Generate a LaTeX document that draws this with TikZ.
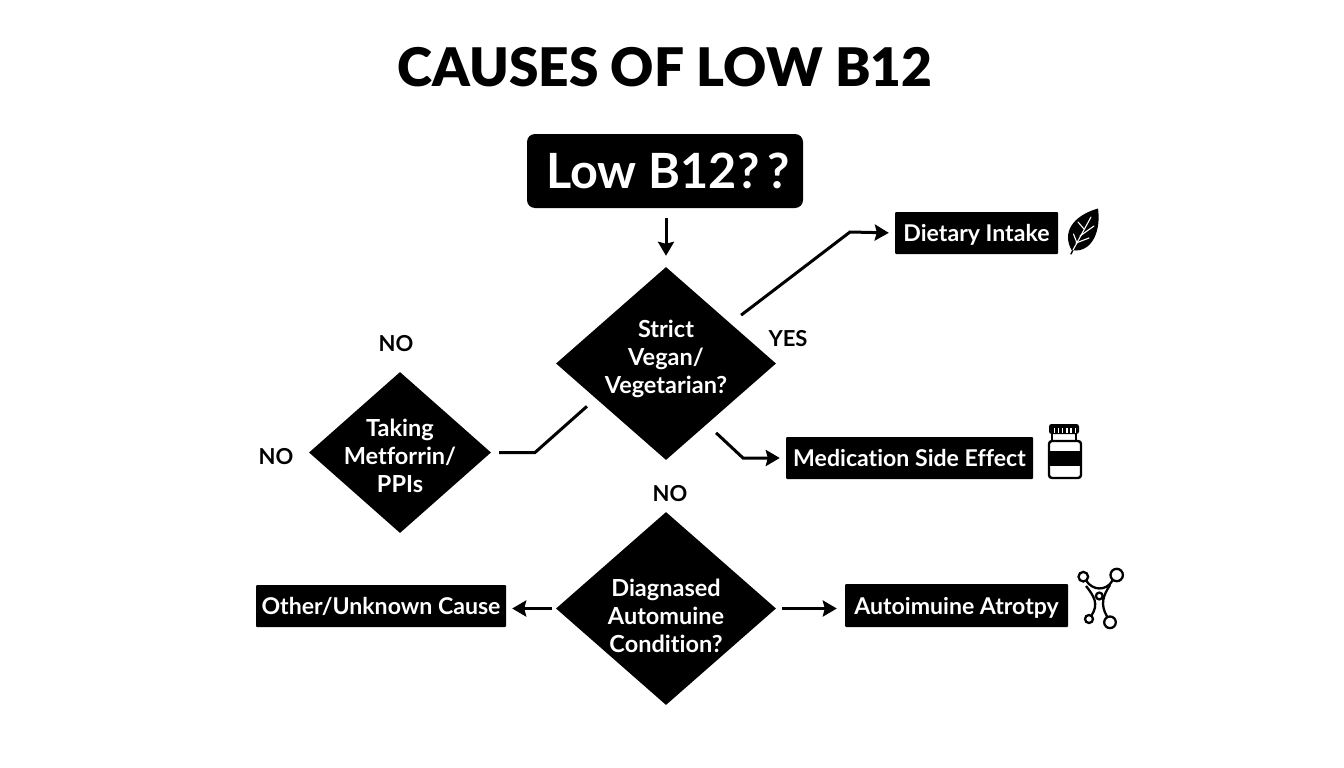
\documentclass[tikz,border=0pt]{standalone}
\usepackage{fontspec}
\setmainfont{Lato}[Ligatures=NoCommon]
\newfontfamily\heavy{Lato Black}[Ligatures=NoCommon]
\usetikzlibrary{shapes.geometric,arrows.meta,calc}
\newcommand\dtext[2]{\raisebox{#1}[0pt][0pt]{\parbox[c]{150pt}{\centering #2}}}
\tikzset{
  decision/.style={diamond,fill=black,text=white,inner sep=0pt,font=\bfseries\fontsize{23.5}{28}\selectfont},
  outcome/.style={rectangle,fill=black,text=white,inner sep=0pt,rounded corners=1pt,text height=17pt,text depth=0pt,font=\bfseries\fontsize{23.1}{26}\selectfont},
  link/.style={line width=3pt,-{Stealth[length=14pt,width=16pt,inset=2pt]}},
  plainlink/.style={line width=3pt},
  branch/.style={font=\bfseries\fontsize{22}{26}\selectfont}
}
\begin{document}
\begin{tikzpicture}[x=1pt,y=-1pt]
\useasboundingbox (0,0) rectangle (1344,768);
\fill[white] (0,0) rectangle (1344,768);
\node[font=\fontsize{53.2}{60}\selectfont\heavy] (title) at (665,67) {CAUSES OF LOW B12};
\node[fill=black,text=white,rounded corners=8pt,minimum width=276pt,minimum height=74pt,inner sep=0pt,font=\bfseries\fontsize{48.6}{54}\selectfont] (start) at (665,171) {\hspace{6pt}Low B12?\,?};
\node[decision,minimum width=220pt,minimum height=193pt,aspect=1.14] (d1) at (666,363.5) {\dtext{-2pt}{Strict\\Vegan/\\Vegetarian?}};
\node[decision,minimum width=182pt,minimum height=161pt,aspect=1.13] (d2) at (400,452.5) {\dtext{-9.5pt}{Taking\\Metforrin/\\PPIs}};
\node[decision,minimum width=220pt,minimum height=193pt,aspect=1.14] (d3) at (666,608.5) {\dtext{-13.5pt}{Diagnased\\Automuine\\Condition?}};
\node[outcome,minimum width=163pt,minimum height=42pt] (diet) at (976.5,233) {Dietary Intake};
\node[outcome,minimum width=247pt,minimum height=42pt] (med) at (909.5,458) {Medication Side Effect};
\node[outcome,minimum width=223pt,minimum height=43pt] (auto) at (956.5,605.5) {Autoimuine Atrotpy};
\node[outcome,minimum width=250pt,minimum height=42pt] (other) at (381,606) {Other/Unknown Cause};
\node[branch] (no1) at (396,344) {NO};
\node[branch] (no2) at (276,457) {NO};
\node[branch] (yes) at (788,339) {YES};
\node[branch] (no3) at (670,494) {NO};
\draw[link,shorten <=10pt,shorten >=11pt] (start.south -| d1.north) -- (d1.north);
\draw[link,shorten >=6pt] ($(d1.north east)+(20,0)$) -- (850,232) -- (diet.west);
\draw[link,shorten >=6pt] ($(d1.south east)+(-5,21)$) -- (743,458) -- (med.west);
\draw[plainlink,shorten >=8pt] ($(d1.south west)+(-24,-5.5)$) -- (535,452.5) -- (d2.east);
\draw[link,shorten <=4pt,shorten >=6pt] (d3.west) -- (other.east |- d3.west);
\draw[link,shorten <=6pt,shorten >=8pt] (d3.east) -- (auto.west |- d3.east);
% leaf
\fill (1071.5,250) .. controls (1062,233) and (1072,216) .. (1098,208.5) .. controls (1101,230) and (1093,250) .. (1076,250.5) -- cycle;
\draw[line width=1.5pt,line cap=round] (1071,254) -- (1074,248);
\draw[white,line width=1.1pt,line cap=round] (1073,250) -- (1091,217);
\draw[white,line width=1.1pt,line cap=round] (1076,243) -- (1089,238) (1080,236) -- (1094,226) (1084,229) -- (1078,222) (1077,243) -- (1073.5,234);
% bottle
\fill[rounded corners=2.5pt] (1049,424) rectangle (1079,434);
\foreach \i in {0,...,5}{\fill[white] ({1053.5+\i*4.2},427.5) rectangle ({1055+\i*4.2},433);}
\draw[line width=2pt] (1052,434) -- (1052,440) (1076,434) -- (1076,440);
\draw[line width=2.4pt,rounded corners=3pt] (1049,441) rectangle (1081,478);
\fill (1049,450.5) rectangle (1081,466);
% network
\begin{scope}[line width=2.3pt]
\draw (1083.3,576.7) circle (4.8pt);
\draw (1116.7,575) circle (6.2pt);
\draw (1099.3,596) circle (3.4pt);
\draw (1089,619) circle (4pt);
\draw (1110,622.3) circle (5.8pt);
\draw (1086.5,581) .. controls (1092,590) and (1106,592) .. (1112.5,580.5);
\draw (1086,586) .. controls (1094,596) and (1099,604) .. (1091.5,615.5);
\draw (1110,585) .. controls (1103,596) and (1100,604) .. (1107,616.5);
\end{scope}
\end{tikzpicture}
\end{document}
